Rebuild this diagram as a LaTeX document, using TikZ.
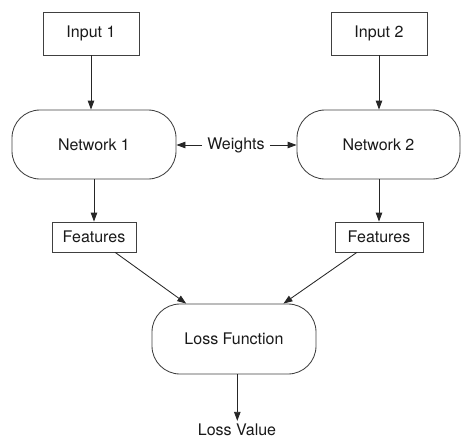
\documentclass[tikz,border=0pt]{standalone}
\usepackage{fontspec}
\setmainfont{TeX Gyre Heros}
\usetikzlibrary{arrows.meta,calc}
\begin{document}
\begin{tikzpicture}[x=1pt,y=-1pt,
  every node/.style={font=\fontsize{16}{19}\selectfont, text=black!90},
  plainbox/.style={draw=black!75, line width=0.85pt, inner sep=0pt},
  roundbox/.style={draw=black!75, line width=0.85pt, rounded corners=28pt, inner sep=0pt},
  conn/.style={draw=black!85, line width=0.85pt, -{Triangle[length=9pt,width=6.5pt]}}
]
\useasboundingbox (0,0) rectangle (474,445);
\node[plainbox, minimum width=96pt, minimum height=43pt] (in1) at (91,33.5) {Input 1};
\node[plainbox, minimum width=96pt, minimum height=43pt] (in2) at (379,33.5) {Input 2};
\node[roundbox, minimum width=164pt, minimum height=69pt] (net1) at (94,144.5) {Network 1};
\node[roundbox, minimum width=163pt, minimum height=69pt] (net2) at (378.5,144.5) {Network 2};
\node[inner sep=5pt] (w) at (236,145) {Weights};
\node[plainbox, minimum width=84pt, minimum height=30pt] (f1) at (94,237) {Features};
\node[plainbox, minimum width=88pt, minimum height=30pt] (f2) at (379,237) {Features};
\node[roundbox, minimum width=164pt, minimum height=70pt] (loss) at (234,339) {Loss Function};
\node[inner sep=3pt] (lv) at (237,430) {Loss Value};
\draw[conn] (in1.south) -- (in1.south |- net1.north);
\draw[conn] (in2.south) -- (in2.south |- net2.north);
\draw[conn] (w.west) -- (net1.east |- w.west);
\draw[conn] (w.east) -- (net2.west |- w.east);
\draw[conn] (net1.south -| f1.north) -- (f1.north);
\draw[conn] (net2.south -| f2.north) -- (f2.north);
\draw[conn] ($(f1.south west)!0.75!(f1.south east)$) -- ($(loss.north west)!0.21!(loss.north east)$);
\draw[conn] ($(f2.south west)!0.25!(f2.south east)$) -- ($(loss.north west)!0.8!(loss.north east)$);
\draw[conn] ($(loss.south west)!0.52!(loss.south east)$) -- (lv.north -| {$(loss.south west)!0.52!(loss.south east)$});
\end{tikzpicture}
\end{document}
